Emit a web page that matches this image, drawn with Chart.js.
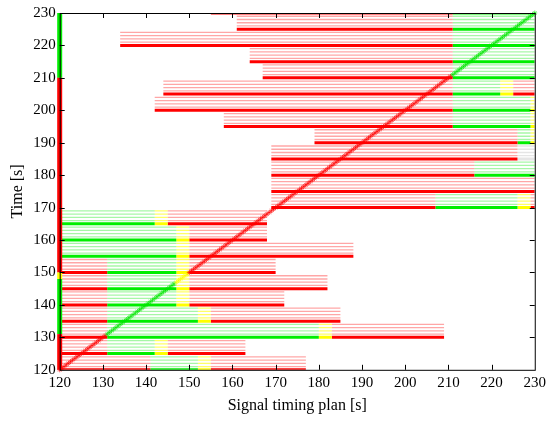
<!DOCTYPE html>
<html><head><meta charset="utf-8">
<script src="https://cdn.jsdelivr.net/npm/chart.js@4"></script>
<style>body{margin:0;background:#fff}#w{width:550px;height:421px}</style>
</head><body><div id="w"><canvas id="c"></canvas></div>
<script>
// Plan blocks: each block starts at planTimes[i] (thick row) and covers 4 thin rows above
const planTimes = [120,125,130,135,140,145,150,155,160,165,170,175,180,185,190,195,200,205,210,215,220,225,230];
const planBounds = [
 [120,141,152,155,177],[120,131,142,145,163],[120,131,180,183,209],[120,131,152,155,185],
 [120,131,147,150,172],[120,131,147,150,182],[120,131,147,150,170],[120,147,150,188],
 [120,147,150,168],[120,142,145,168],[169,207,226,229,230],[169,230],[169,216,230],
 [169,226,230],[179,226,229,230],[158,211,229,230],[142,211,229,230],[144,211,222,225,230],
 [167,211,230],[164,211,230],[134,211,230],[161,211,230],[155,211,230]];
const planPhases = ["RGYR","RGYR","RGYR","RGYR","RGYR","RGYR","RGYR","GYR","GYR","GYR","RGYR","R","RG","R","RGY","RGY","RGY","RGYR","RG","RG","RG","RG","RG"];
// current signal at x=120 over time
const nowBounds = [120,131,148,150,210,230];
const nowPhases = "RGYRG";
// executed signal along diagonal
const diagBounds = [120,131,147,150,211,230];
const diagPhases = "RGYRG";

const full = {R:'#ff0000',G:'#00ee00',Y:'#ffff00'};
const light = {R:'rgba(255,0,0,0.35)',G:'rgba(0,230,0,0.35)',Y:'rgba(255,255,0,0.6)'};
const ds = [];
planTimes.forEach((t,i)=>{
  const rows = t===230 ? 1 : 5;
  for(let k=rows-1;k>=0;k--){
    const y=t+k, thick=(k===0);
    const b=planBounds[i];
    for(let s=0;s<b.length-1;s++){
      const p=planPhases[i][s];
      ds.push({type:'line',data:[{x:b[s],y},{x:b[s+1],y}],borderColor:thick?full[p]:light[p],borderWidth:thick?3:1.3,pointRadius:0,order:thick?1:2});
    }
  }
});
for(let s=0;s<nowBounds.length-1;s++){
  ds.push({type:'line',data:[{x:120,y:nowBounds[s]},{x:120,y:nowBounds[s+1]}],borderColor:full[nowPhases[s]],borderWidth:5,pointRadius:0,order:0,clip:false});
}
const dpts=[],dcol=[];
for(let t=120;t<=230;t+=0.5){
  let s=0; while(s<diagBounds.length-2 && t>=diagBounds[s+1]) s++;
  dpts.push({x:t,y:t}); dcol.push(light[diagPhases[s]].replace('0.35','0.6'));
}
ds.push({type:'scatter',data:dpts,pointStyle:'star',pointRadius:2.5,borderWidth:1,borderColor:dcol,backgroundColor:dcol,order:0,clip:false});

const box={id:'box',afterDraw(c){const a=c.chartArea,x=c.ctx;x.save();x.strokeStyle='#000';x.lineWidth=1;x.strokeRect(a.left+.5,a.top+.5,a.width,a.height);
 const sx=c.scales.x,sy=c.scales.y;x.beginPath();
 for(let v=130;v<230;v+=10){const px=Math.round(sx.getPixelForValue(v))+.5;x.moveTo(px,a.bottom);x.lineTo(px,a.bottom-5);x.moveTo(px,a.top);x.lineTo(px,a.top+5);
  const py=Math.round(sy.getPixelForValue(v))+.5;x.moveTo(a.left,py);x.lineTo(a.left+5,py);x.moveTo(a.right,py);x.lineTo(a.right-5,py);}
 x.stroke();x.restore();}};
const F="'Liberation Serif','Times New Roman',serif";
new Chart(document.getElementById('c'),{
 data:{datasets:ds},
 options:{responsive:true,maintainAspectRatio:false,animation:false,
  layout:{padding:{left:4,right:14,top:10,bottom:2}},
  plugins:{legend:{display:false},tooltip:{enabled:false}},
  scales:{
   x:{type:'linear',min:120,max:230,grid:{display:false,drawTicks:false},border:{display:false},
      ticks:{stepSize:10,color:'#000',font:{family:F,size:15},padding:4},
      title:{display:true,text:'Signal timing plan [s]',color:'#000',font:{family:F,size:16},padding:{top:0}}},
   y:{type:'linear',min:120,max:230,grid:{display:false,drawTicks:false},border:{display:false},
      ticks:{stepSize:10,color:'#000',font:{family:F,size:15},padding:4},
      title:{display:true,text:'Time [s]',color:'#000',font:{family:F,size:16},padding:{bottom:2}}}
  }},
 plugins:[box]
});
</script></body></html>
